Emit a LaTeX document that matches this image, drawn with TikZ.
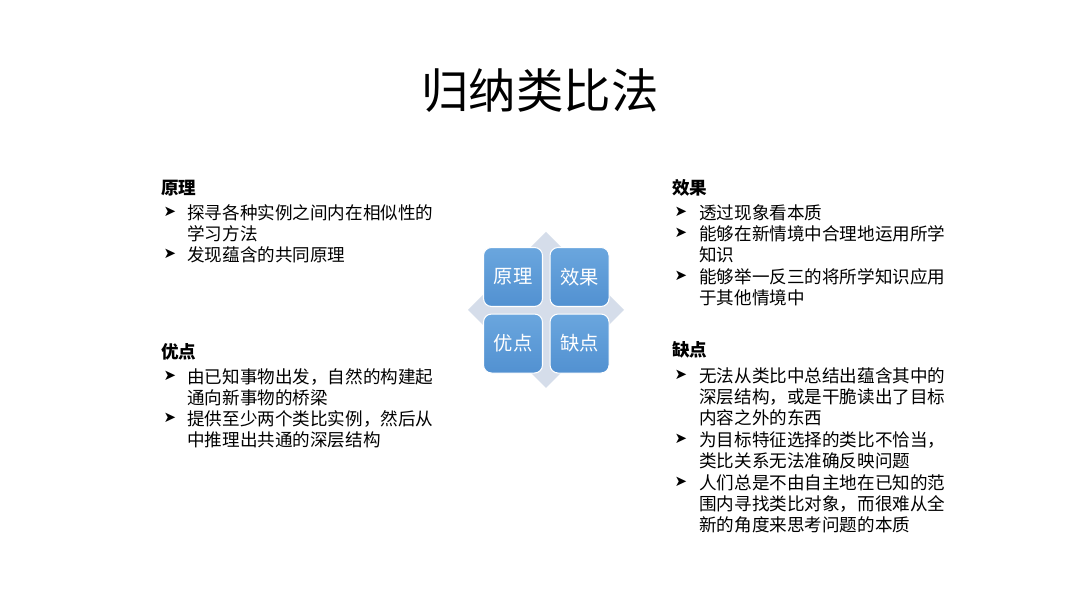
\documentclass[tikz,border=0pt]{standalone}
\usepackage{fontspec}
\setmainfont{Noto Sans CJK SC}
\newfontfamily\symfont{DejaVu Sans}
\usetikzlibrary{positioning}
\definecolor{quadtop}{HTML}{6AA6DE}
\definecolor{quadbot}{HTML}{5291D1}
\definecolor{diamondgray}{HTML}{D5DDEA}
\tikzset{
  heading/.style={anchor=west, inner sep=0, font=\fontsize{10}{12}\selectfont\bfseries},
  bul/.style={inner sep=0, font=\symfont\fontsize{8.5}{10}\selectfont},
  itemtext/.style={anchor=north west, inner sep=0, align=left, font=\fontsize{10}{12}\selectfont},
  quad/.style={draw=white, line width=0.6pt, rounded corners=0.16cm, minimum size=1.18cm,
    top color=quadtop, bottom color=quadbot, text=white, font=\fontsize{11}{13}\selectfont}
}
\begin{document}
\begin{tikzpicture}[x=0.02cm, y=-0.02cm]
\useasboundingbox[fill=white] (0,0) rectangle (1080,607);
\node[font=\fontsize{27}{30}\selectfont] (title) at (540,91) {归纳类比法};
% centre
\fill[diamondgray] (546,232) -- (624,310) -- (546,388) -- (468,310) -- cycle;
\node[quad] (yl) at (513,277) {原理};
\node[quad, right=0.13cm of yl] (xg) {效果};
\node[quad, below=0.13cm of yl] (yd) {优点};
\node[quad, right=0.13cm of yd] (qd) {缺点};
% left
\node[heading] (h1) at (161,188) {原理};
\node[bul] (b11) at (170,212) {➤};
\node[itemtext] (t11) at (187,204) {探寻各种实例之间内在相似性的\\学习方法};
\node[bul] (b12) at (170,254) {➤};
\node[itemtext] (t12) at (187,246) {发现蕴含的共同原理};
\node[heading] (h2) at (161,352) {优点};
\node[bul] (b21) at (170,376) {➤};
\node[itemtext] (t21) at (187,368) {由已知事物出发，自然的构建起\\通向新事物的桥梁};
\node[bul] (b22) at (170,418) {➤};
\node[itemtext] (t22) at (187,410) {提供至少两个类比实例，然后从\\中推理出共通的深层结构};
% right
\node[heading] (h3) at (672,188) {效果};
\node[bul] (b31) at (681,212) {➤};
\node[itemtext] (t31) at (699,204) {透过现象看本质};
\node[bul] (b32) at (681,233) {➤};
\node[itemtext] (t32) at (699,225) {能够在新情境中合理地运用所学\\知识};
\node[bul] (b33) at (681,276) {➤};
\node[itemtext] (t33) at (699,268) {能够举一反三的将所学知识应用\\于其他情境中};
\node[heading] (h4) at (672,350) {缺点};
\node[bul] (b41) at (681,375) {➤};
\node[itemtext] (t41) at (699,367) {无法从类比中总结出蕴含其中的\\深层结构，或是干脆读出了目标\\内容之外的东西};
\node[bul] (b42) at (681,439) {➤};
\node[itemtext] (t42) at (699,431) {为目标特征选择的类比不恰当，\\类比关系无法准确反映问题};
\node[bul] (b43) at (681,482) {➤};
\node[itemtext] (t43) at (699,474) {人们总是不由自主地在已知的范\\围内寻找类比对象，而很难从全\\新的角度来思考问题的本质};
\end{tikzpicture}
\end{document}
